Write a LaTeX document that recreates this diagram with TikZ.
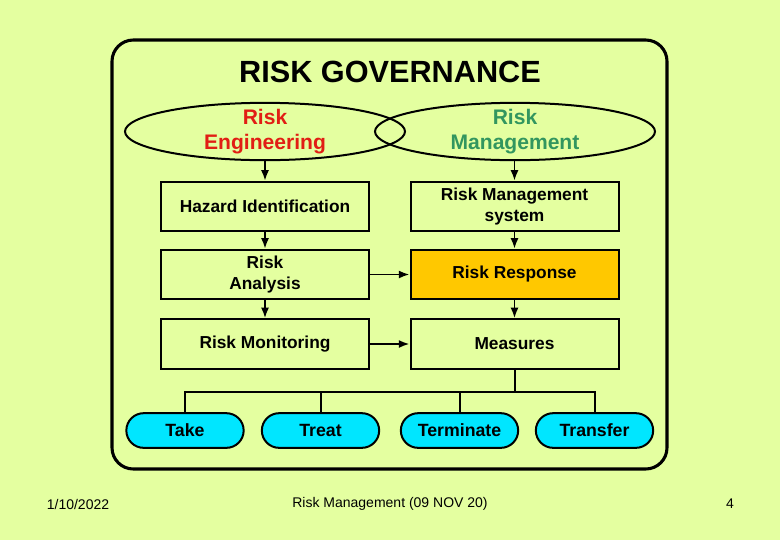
\documentclass[tikz,border=0pt]{standalone}
\usepackage{fontspec}
\setmainfont{Liberation Sans}
\usetikzlibrary{shapes.geometric,arrows.meta}
\definecolor{slidebg}{RGB}{228,255,160}
\definecolor{riskred}{RGB}{225,30,20}
\definecolor{riskgreen}{RGB}{50,150,95}
\definecolor{respons}{RGB}{255,200,0}
\definecolor{pillcyan}{RGB}{0,230,255}

\begin{document}
\begin{tikzpicture}[x=0.75pt,y=-0.75pt,
		stepbox/.style={draw,line width=1.5pt,minimum width=156pt,minimum height=37pt,
			align=center,font=\fontsize{13}{15.75}\selectfont\bfseries},
		oval/.style={ellipse,draw,line width=1.5pt,inner sep=0pt,minimum width=210pt,minimum height=43pt},
		ovaltext/.style={align=center,font=\fontsize{15.8}{18.75}\selectfont\bfseries},
		pill/.style={draw,line width=1.5pt,fill=pillcyan,rounded corners=13pt,
			minimum width=88pt,minimum height=26pt,font=\fontsize{13.3}{15}\selectfont\bfseries},
		arr/.style={-{Latex[length=8pt,width=6pt]},line width=1.4pt},
		tree/.style={line width=1.5pt},
		foot/.style={font=\fontsize{10.5}{12}\selectfont}]
		\fill[slidebg] (0,0) rectangle (780,540);
		\useasboundingbox (0,0) rectangle (780,540);
		\draw[line width=2.3pt,rounded corners=16pt] (112,40) rectangle (667,469);
		\node[font=\fontsize{23}{26}\selectfont\bfseries] (title) at (390,72) {RISK GOVERNANCE};
		% two overlapping ovals
		\node[oval] (eng) at (265,131.5) {};
		\node[oval] (mgmt) at (515,131.5) {};
		\node[ovaltext,text=riskred] (engtext) at (eng) {Risk\\Engineering};
		\node[ovaltext,text=riskgreen] (mgmttext) at (mgmt) {Risk\\Management};
		% left column
		\node[stepbox] (hazard) at (265,206.5) {Hazard Identification};
		\node[stepbox] (analysis) at (265,274.5) {Risk\\Analysis};
		\node[stepbox] (monitor) at (265,344) {Risk Monitoring};
		% right column
		\node[stepbox] (system) at (514.5,206.5) {Risk Management\\system};
		\node[stepbox,fill=respons] (response) at (514.5,274.5) {Risk Response};
		\node[stepbox] (measures) at (514.5,344) {Measures};
		% responses
		\node[pill] (take) at (185,430.5) {Take};
		\node[pill] (treat) at (320.5,430.5) {Treat};
		\node[pill] (terminate) at (459.5,430.5) {Terminate};
		\node[pill] (transfer) at (594.5,430.5) {Transfer};
		\coordinate (split) at (514.5,392);
		\draw[arr] (eng.south) -- (hazard);
		\draw[arr] (mgmt.south -| system) -- (system);
		\draw[arr] (hazard) -- (analysis);
		\draw[arr] (analysis) -- (monitor);
		\draw[arr] (system) -- (response);
		\draw[arr] (response) -- (measures);
		\draw[arr] (analysis) -- (response);
		\draw[arr] (monitor) -- (measures);
		\draw[tree] (measures) -- (split);
		\draw[tree] (take) |- (split) -| (transfer);
		\draw[tree] (treat.north) -- (treat.north |- split);
		\draw[tree] (terminate.north) -- (terminate.north |- split);
		% footer
		\node[foot] (date) at (78,504) {1/10/2022};
		\node[foot] (footer) at (390,504) {Risk Management (09 NOV 20)};
		\node[foot] (page) at (730,504) {4};
\end{tikzpicture}
\end{document}
